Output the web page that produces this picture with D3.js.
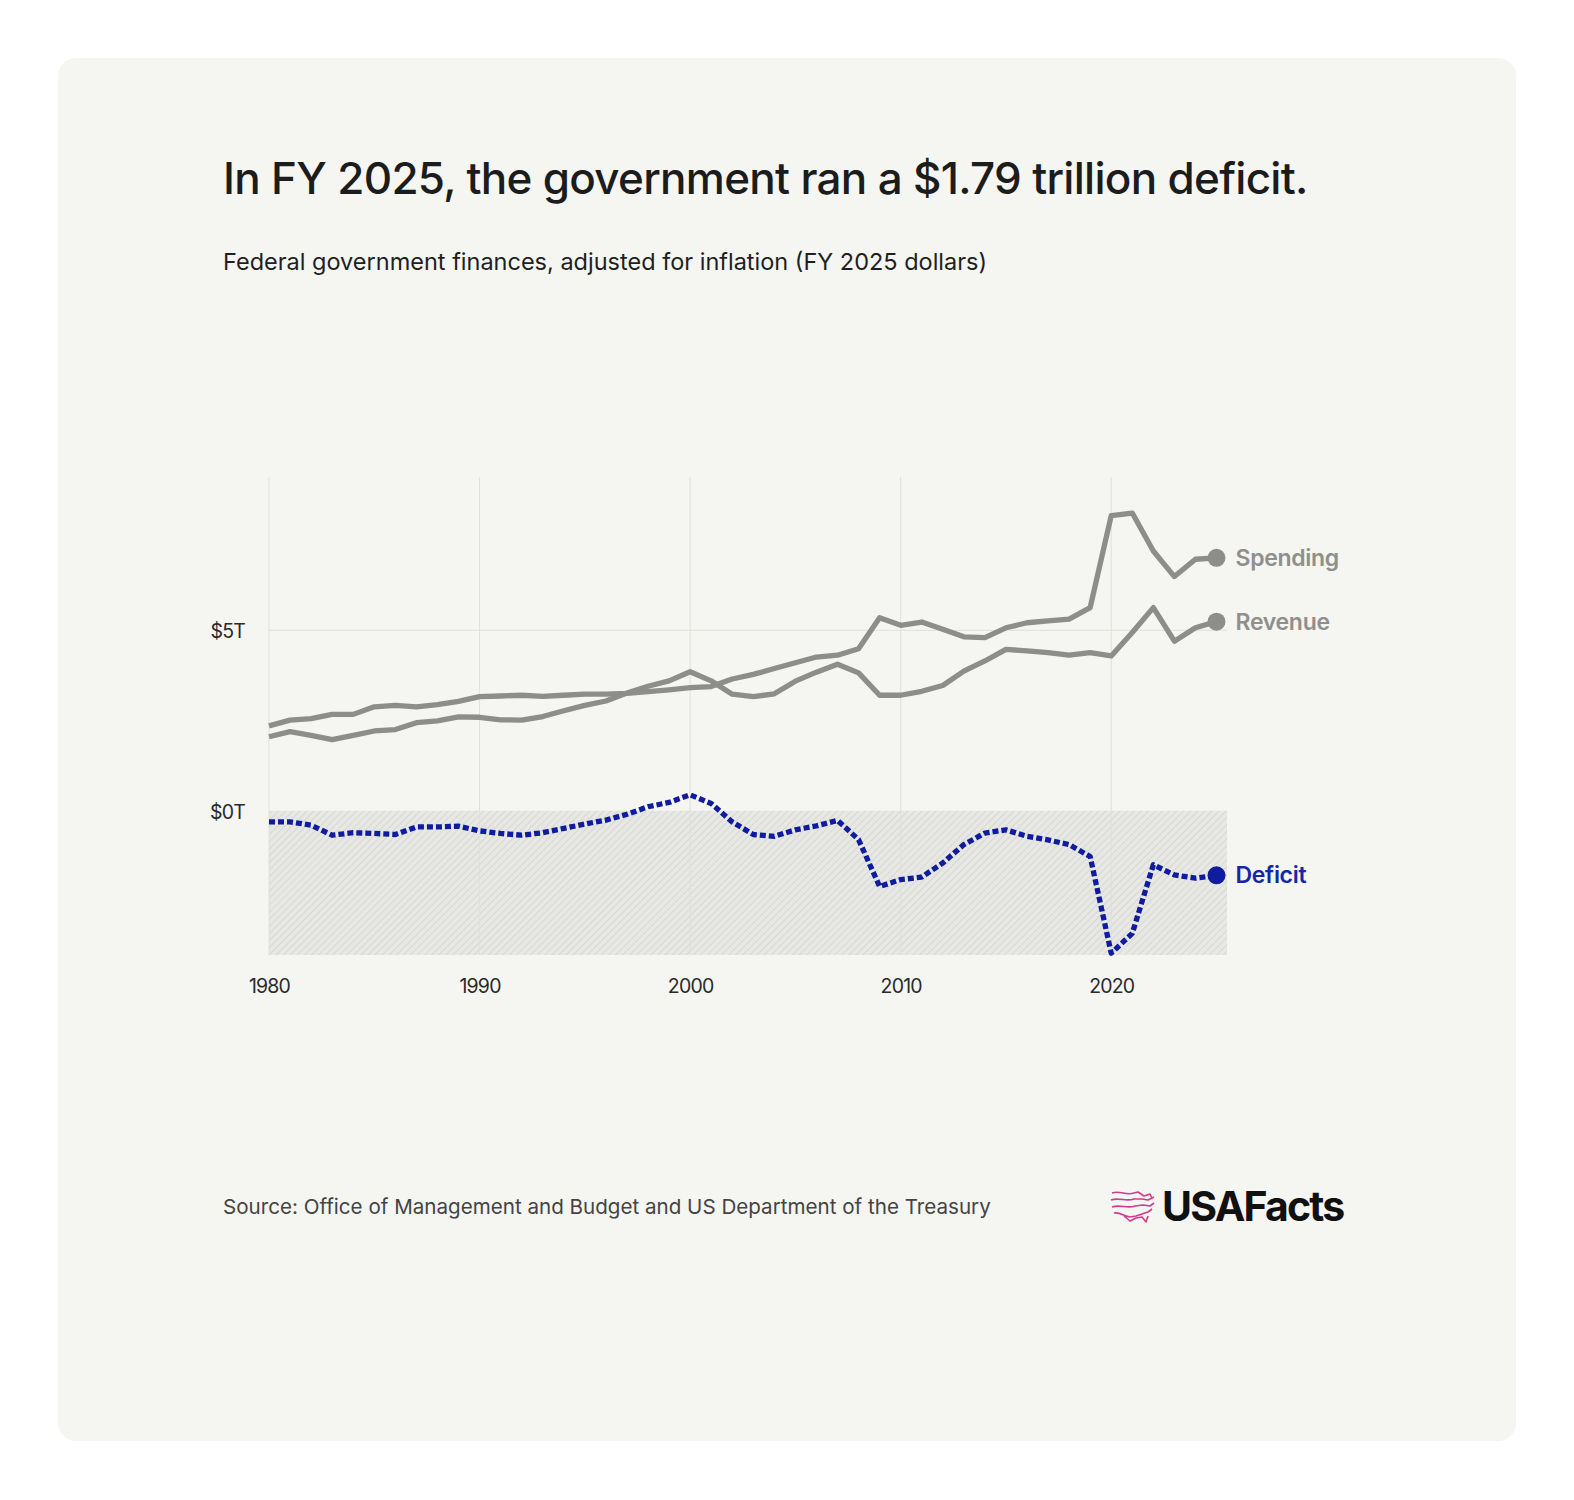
<!DOCTYPE html>
<html>
<head>
<meta charset="utf-8">
<script src="https://cdn.jsdelivr.net/npm/d3@7"></script>
<style>
  body { margin: 0; background: #ffffff; }
  svg { display: block; font-family: Inter, "Noto Sans", sans-serif; }
</style>
</head>
<body>
<div class="root"></div>
<script>
const years = [1980, 1981, 1982, 1983, 1984, 1985, 1986, 1987, 1988, 1989,
  1990, 1991, 1992, 1993, 1994, 1995, 1996, 1997, 1998, 1999,
  2000, 2001, 2002, 2003, 2004, 2005, 2006, 2007, 2008, 2009,
  2010, 2011, 2012, 2013, 2014, 2015, 2016, 2017, 2018, 2019,
  2020, 2021, 2022, 2023, 2024, 2025];

// trillions, FY 2025 dollars
const spending = [2.35, 2.51, 2.55, 2.67, 2.67, 2.88, 2.92, 2.88, 2.94, 3.03,
  3.16, 3.18, 3.20, 3.17, 3.20, 3.23, 3.23, 3.25, 3.30, 3.35,
  3.41, 3.44, 3.65, 3.78, 3.94, 4.10, 4.26, 4.31, 4.49, 5.35,
  5.14, 5.23, 5.03, 4.82, 4.80, 5.07, 5.21, 5.26, 5.31, 5.63,
  8.18, 8.25, 7.20, 6.49, 6.97, 7.01];

const revenue = [2.05, 2.19, 2.09, 1.97, 2.09, 2.21, 2.25, 2.44, 2.49, 2.60,
  2.59, 2.52, 2.51, 2.61, 2.77, 2.92, 3.04, 3.26, 3.45, 3.60,
  3.85, 3.60, 3.23, 3.16, 3.24, 3.59, 3.84, 4.06, 3.82, 3.20,
  3.20, 3.31, 3.47, 3.87, 4.15, 4.47, 4.43, 4.38, 4.31, 4.38,
  4.29, 4.94, 5.63, 4.70, 5.07, 5.24];

const deficit = [-0.31, -0.31, -0.40, -0.68, -0.61, -0.63, -0.66, -0.45, -0.45, -0.43,
  -0.56, -0.63, -0.68, -0.61, -0.49, -0.37, -0.26, -0.10, 0.11, 0.23,
  0.44, 0.20, -0.31, -0.66, -0.71, -0.53, -0.42, -0.27, -0.80, -2.10,
  -1.91, -1.84, -1.45, -0.94, -0.62, -0.53, -0.71, -0.81, -0.94, -1.27,
  -3.95, -3.40, -1.50, -1.78, -1.87, -1.79];

const xTicks = [1980, 1990, 2000, 2010, 2020];
const yTicks = [0, 5];
const yTickLabels = ['$0T', '$5T'];

const svgWidth = 1574;
const svgHeight = 1500;

const svg = d3.select('.root')
  .append('svg')
  .attr('width', svgWidth)
  .attr('height', svgHeight);

// card
svg.append('rect')
  .attr('x', 58).attr('y', 58)
  .attr('width', 1458).attr('height', 1383)
  .attr('rx', 18)
  .attr('fill', '#f5f5f1');

svg.append('text')
  .attr('x', 223).attr('y', 194)
  .attr('font-size', 44)
  .attr('font-weight', 500)
  .attr('fill', '#1c1c1c')
  .attr('letter-spacing', -0.7)
  .text('In FY 2025, the government ran a $1.79 trillion deficit.');

svg.append('text')
  .attr('x', 223).attr('y', 270)
  .attr('font-size', 23.5)
  .attr('fill', '#1f1f1f')
  .text('Federal government finances, adjusted for inflation (FY 2025 dollars)');

svg.append('text')
  .attr('x', 223).attr('y', 1214)
  .attr('font-size', 20.6)
  .attr('fill', '#444')
  .text('Source: Office of Management and Budget and US Department of the Treasury');

// plot
const x = d3.scaleLinear().domain([1980, 2025]).range([269, 1216.5]);
const y = d3.scaleLinear().domain([-4, 9.25]).range([955, 477]);
const xRight = x(2025.5);

const defs = svg.append('defs');
const hatch = defs.append('pattern')
  .attr('id', 'hatch')
  .attr('patternUnits', 'userSpaceOnUse')
  .attr('width', 5).attr('height', 5)
  .attr('patternTransform', 'rotate(45)');
hatch.append('rect').attr('width', 5).attr('height', 5).attr('fill', '#e7e7e3');
hatch.append('line')
  .attr('x1', 0).attr('y1', 0).attr('x2', 0).attr('y2', 5)
  .attr('stroke', '#d3d3cf').attr('stroke-width', 1.6);

svg.append('rect')
  .attr('x', x(1980)).attr('y', y(0))
  .attr('width', xRight - x(1980))
  .attr('height', y(-4) - y(0))
  .attr('fill', 'url(#hatch)');

const grid = svg.append('g').attr('class', 'grid');
grid.selectAll('.vline')
  .data(xTicks)
  .enter().append('line')
  .attr('x1', d => x(d)).attr('x2', d => x(d))
  .attr('y1', y(9.25)).attr('y2', y(-4))
  .attr('stroke', '#e0e0dc').attr('stroke-width', 1);
grid.selectAll('.hline')
  .data([5])
  .enter().append('line')
  .attr('x1', x(1980)).attr('x2', xRight)
  .attr('y1', d => y(d)).attr('y2', d => y(d))
  .attr('stroke', '#e0e0dc').attr('stroke-width', 1);

const xAxis = svg.append('g')
  .attr('transform', `translate(0, ${y(-4)})`)
  .call(d3.axisBottom(x).tickValues(xTicks).tickFormat(d3.format('d')).tickSize(0).tickPadding(24));
xAxis.select('.domain').remove();
xAxis.selectAll('text')
  .attr('font-family', 'Inter, sans-serif')
  .attr('font-size', 19.5)
  .attr('letter-spacing', -0.8)
  .attr('fill', '#2a2a2a');

const yAxis = svg.append('g')
  .attr('transform', `translate(245, 0)`)
  .call(d3.axisLeft(y).tickValues(yTicks).tickFormat((d, i) => yTickLabels[i]).tickSize(0).tickPadding(0));
yAxis.select('.domain').remove();
yAxis.selectAll('text')
  .attr('font-family', 'Inter, sans-serif')
  .attr('font-size', 19.5)
  .attr('letter-spacing', -0.8)
  .attr('dy', '0.38em')
  .attr('fill', '#2a2a2a');

const series = [
  { id: 'Spending', values: spending, color: '#8d8d89', dash: null },
  { id: 'Revenue', values: revenue, color: '#8d8d89', dash: null },
  { id: 'Deficit', values: deficit, color: '#0f1c9e', dash: '6 3' }
];

const line = d3.line()
  .x((d, i) => x(years[i]))
  .y(d => y(d));

series.forEach(s => {
  svg.append('path')
    .datum(s.values)
    .attr('d', line)
    .attr('fill', 'none')
    .attr('stroke', s.color)
    .attr('stroke-width', 5.3)
    .attr('stroke-dasharray', s.dash)
    .attr('stroke-linejoin', 'round');

  const last = s.values[s.values.length - 1];
  svg.append('circle')
    .attr('cx', x(2025)).attr('cy', y(last))
    .attr('r', 9)
    .attr('fill', s.color);

  svg.append('text')
    .attr('x', x(2025) + 19).attr('y', y(last))
    .attr('dy', '0.35em')
    .attr('font-size', 23)
    .attr('font-weight', 600)
    .attr('letter-spacing', -0.3)
    .attr('fill', s.color === '#0f1c9e' ? '#1526a8' : '#8f8f8b')
    .text(s.id);
});

// logo
const logo = svg.append('g').attr('transform', 'translate(1110, 1190)')
  .attr('fill', 'none').attr('stroke', '#d23c8f').attr('stroke-width', 1.6)
  .attr('stroke-linejoin', 'round');
logo.append('path').attr('d', 'M2 3 C10 0 16 6 24 3 L28 2 L34 6 L40 4 L42 8');
logo.append('path').attr('d', 'M1 10 C9 7 16 12 24 9 L32 9 L38 10 L44 7');
logo.append('path').attr('d', 'M2 17 C10 14 17 19 25 16 L33 15 L40 16 L44 13');
logo.append('path').attr('d', 'M4 23 C10 22 14 26 20 27 L26 26 L32 24 L38 22 L42 19');
logo.append('path').attr('d', 'M14 26 L20 31 L26 28 L32 27 L36 32 L38 26');

svg.append('text')
  .attr('x', 1162).attr('y', 1221)
  .attr('font-size', 41)
  .attr('font-weight', 700)
  .attr('letter-spacing', -1.8)
  .attr('fill', '#111')
  .text('USAFacts');
</script>
</body>
</html>
